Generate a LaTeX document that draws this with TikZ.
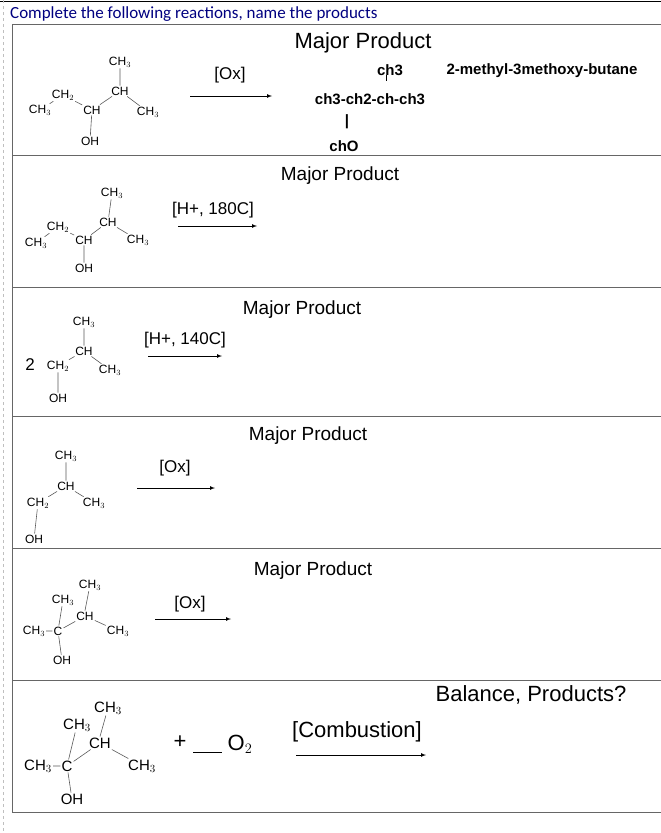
\documentclass[tikz,border=0pt]{standalone}
\usepackage{fontspec}
\setmainfont{Liberation Sans}
\newfontfamily\calib{Carlito}
\begin{document}
\begin{tikzpicture}[x=1pt,y=-1pt,
 atm/.style={font=\fontsize{12}{13}\selectfont,inner sep=1pt},
 atb/.style={font=\fontsize{15}{16}\selectfont,inner sep=1pt},
 big/.style={font=\fontsize{22}{24}\selectfont,inner sep=0pt},
 mp/.style={font=\fontsize{19}{21}\selectfont,inner sep=0pt},
 med/.style={font=\fontsize{17}{19}\selectfont,inner sep=0pt},
 prod/.style={font=\fontsize{15}{17}\selectfont\bfseries,inner sep=0pt},
 bond/.style={line width=0.6pt,gray!70!black},
 rxn/.style={-latex,line width=0.7pt},
 rule/.style={line width=0.8pt,gray!80!black}]
\useasboundingbox (0,0) rectangle (661,833);
\draw[line width=1pt] (0,1) -- (661,1);
\draw[dashed,gray!50] (3,0) -- (3,833);
\node[anchor=west,inner sep=0pt,text=blue!50!black,font=\calib\fontsize{17}{19}\selectfont] (hdr) at (10,14) {Complete the following reactions, name the products};
\draw[rule] (12,24) -- (661,24);
\draw[rule] (12,24) -- (12,812) -- (661,812);
\foreach \yy in {155,287,416,548,680} \draw[rule] (12,\yy) -- (661,\yy);
% Row 1
\node[atm] (a1) at (40,110) {CH$_3$};
\node[atm] (a2) at (63,95) {CH$_2$};
\node[atm] (a3) at (92,110) {CH};
\node[atm] (a4) at (120,91) {CH};
\node[atm] (a5) at (120,62) {CH$_3$};
\node[atm] (a6) at (148,112) {CH$_3$};
\node[atm] (a7) at (90,141) {OH};
\draw[bond] (a1) -- (a2) -- (a3) -- (a4) -- (a6) (a4) -- (a5) (a3) -- (a7);
\node[med] (l1) at (230,75) {[Ox]};
\coordinate (s1) at (190,96); \coordinate (e1) at (272,96);
\draw[rxn] (s1) -- (e1);
\node[big] (mp1) at (363,43) {Major Product};
\node[prod] (p1) at (390,70) {ch3};
\node[prod] (p2) at (370,99) {ch3-ch2-ch-ch3};
\node[prod] (p3) at (347,122) {|};
\node[prod] (p4) at (344,146) {chO};
\draw[line width=1pt] (p1.south) ++(-4,-1) -- ++(0,6);
\node[prod] (n1) at (542,71) {2-methyl-3methoxy-butane};
% Row 2
\node[atm] (b1) at (36,243) {CH$_3$};
\node[atm] (b2) at (58,227) {CH$_2$};
\node[atm] (b3) at (84,240) {CH};
\node[atm] (b4) at (108,222) {CH};
\node[atm] (b5) at (112,193) {CH$_3$};
\node[atm] (b6) at (138,240) {CH$_3$};
\node[atm] (b7) at (84,268) {OH};
\draw[bond] (b1) -- (b2) -- (b3) -- (b4) -- (b6) (b4) -- (b5) (b3) -- (b7);
\node[med] (l2) at (213,210) {[H+, 180C]};
\coordinate (s2) at (178,226); \coordinate (e2) at (257,226);
\draw[rxn] (s2) -- (e2);
\node[mp] (mp2) at (340,176) {Major Product};
% Row 3
\node[med] (c0) at (30,365) {2};
\node[atm] (c1) at (58,366) {CH$_2$};
\node[atm] (c2) at (84,351) {CH};
\node[atm] (c3) at (84,322) {CH$_3$};
\node[atm] (c4) at (110,370) {CH$_3$};
\node[atm] (c5) at (58,398) {OH};
\draw[bond] (c1) -- (c2) -- (c4) (c2) -- (c3) (c1) -- (c5);
\node[med] (l3) at (185,340) {[H+, 140C]};
\coordinate (s3) at (148,356); \coordinate (e3) at (222,356);
\draw[rxn] (s3) -- (e3);
\node[mp] (mp3) at (302,310) {Major Product};
% Row 4
\node[atm] (d1) at (66,456) {CH$_3$};
\node[atm] (d2) at (66,486) {CH};
\node[atm] (d3) at (38,503) {CH$_2$};
\node[atm] (d4) at (94,503) {CH$_3$};
\node[atm] (d5) at (34,539) {OH};
\draw[bond] (d1) -- (d2) -- (d4) (d2) -- (d3) -- (d5);
\node[med] (l4) at (175,468) {[Ox]};
\coordinate (s4) at (137,488); \coordinate (e4) at (215,488);
\draw[rxn] (s4) -- (e4);
\node[mp] (mp4) at (308,436) {Major Product};
% Row 5
\node[atm] (f1) at (90,585) {CH$_3$};
\node[atm] (f2) at (63,600) {CH$_3$};
\node[atm] (f3) at (85,616) {CH};
\node[atm] (f4) at (34,631) {CH$_3$};
\node[atm] (f5) at (58,631) {C};
\node[atm] (f6) at (118,631) {CH$_3$};
\node[atm] (f7) at (62,660) {OH};
\draw[bond] (f4) -- (f5) -- (f3) -- (f6) (f2) -- (f5) -- (f7);
\draw[bond] (f3.north) -- (f1);
\node[med] (l5) at (190,604) {[Ox]};
\coordinate (s5) at (155,619); \coordinate (e5) at (231,619);
\draw[rxn] (s5) -- (e5);
\node[mp] (mp5) at (313,571) {Major Product};
% Row 6
\node[atb] (g1) at (108,708) {CH$_3$};
\node[atb] (g2) at (77,725) {CH$_3$};
\node[atb] (g3) at (100,743) {CH};
\node[atb] (g4) at (38,766) {CH$_3$};
\node[atb] (g5) at (67,766) {C};
\node[atb] (g6) at (142,766) {CH$_3$};
\node[atb] (g7) at (72,799) {OH};
\draw[bond] (g4) -- (g5) -- (g3) -- (g6) (g2) -- (g5) -- (g7);
\draw[bond] (g3.north) -- (g1);
\node[big] (pl) at (180,742) {+};
\coordinate (u1) at (193,752); \coordinate (u2) at (222,752);
\draw[line width=1pt] (u1) -- (u2);
\node[big] (o2) at (240,744) {O$_2$};
\node[big] (l6) at (357,732) {[Combustion]};
\coordinate (s6) at (296,755); \coordinate (e6) at (426,755);
\draw[rxn] (s6) -- (e6);
\node[big] (bal) at (531,695) {Balance, Products?};
\end{tikzpicture}
\end{document}
